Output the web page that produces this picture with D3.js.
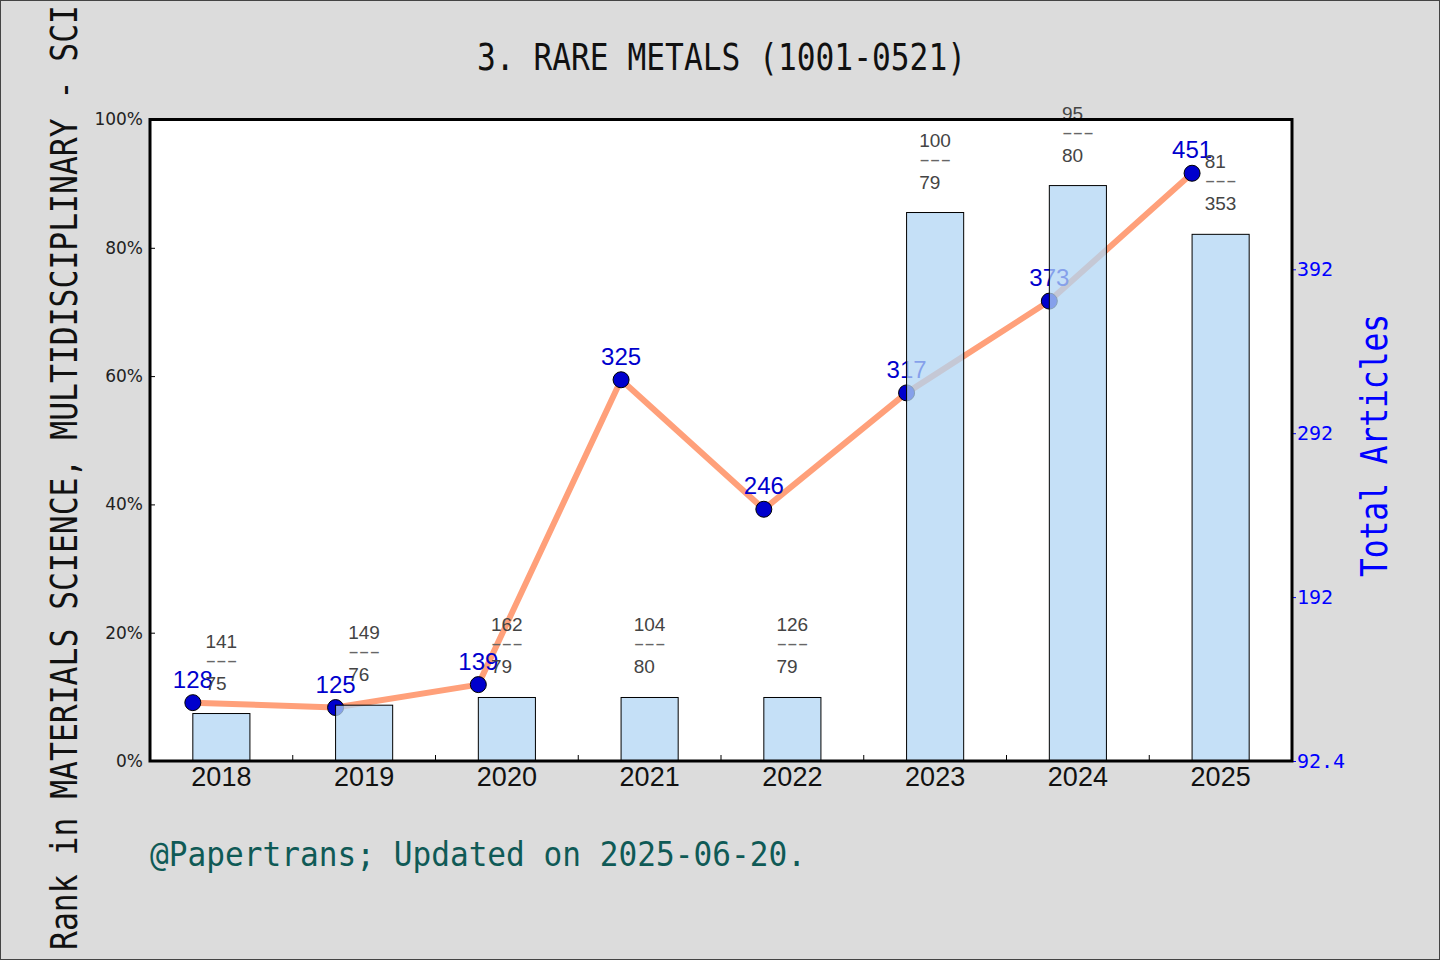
<!DOCTYPE html>
<html><head><meta charset="utf-8">
<script src="https://cdn.jsdelivr.net/npm/d3@7"></script>
<style>html,body{margin:0;padding:0;background:#dcdcdc;}svg{display:block;}</style>
</head><body>
<script>
// ---- data ----
const years = ["2018","2019","2020","2021","2022","2023","2024","2025"];
const barPercent = [7.4, 8.7, 9.9, 9.9, 9.9, 85.5, 89.7, 82.1];
const rankTop = ["141","149","162","104","126","100","95","81"];
const rankBottom = ["75","76","79","80","79","79","80","353"];
const totalArticles = [128, 125, 139, 325, 246, 317, 373, 451];
const leftTicks = [0, 20, 40, 60, 80, 100];
const rightTickValues = [92.4, 192.4, 292.4, 392.4];
const rightTickLabels = ["92.4", "192", "292", "392"];
const rightDomain = [92.4, 483.8];
const titleText = "3. RARE METALS (1001-0521)";
const leftTitle = "Rank in MATERIALS SCIENCE, MULTIDISCIPLINARY - SCI";
const rightTitle = "Total Articles";
const footerText = "@Papertrans; Updated on 2025-06-20.";

const W = 1440, H = 960;
const L = 150, R = 1292, T = 119.5, B = 761;
const mono = "'DejaVu Sans Mono', 'Liberation Mono', monospace";
const sans = "'Liberation Sans', Arial, sans-serif";

const svg = d3.select("body").append("svg").attr("width", W).attr("height", H);
svg.append("rect").attr("x",0.5).attr("y",0.5).attr("width",W-1).attr("height",H-1)
  .attr("fill","#dcdcdc").attr("stroke","#444").attr("stroke-width",1);

const x = d3.scaleBand().domain(years).range([L, R]).paddingInner(0).paddingOuter(0);
const yL = d3.scaleLinear().domain([0, 100]).range([B, T]);
const yR = d3.scaleLinear().domain(rightDomain).range([B, T]);
const bw = x.bandwidth();

// plot background
svg.append("rect").attr("x", L).attr("y", T).attr("width", R-L).attr("height", B-T).attr("fill", "#fff");

// title
svg.append("text").attr("x", 477).attr("y", 70).attr("font-family", mono).attr("font-size", 38)
  .attr("textLength", 489).attr("lengthAdjust", "spacingAndGlyphs").attr("fill", "#111").text(titleText);

// left axis title
svg.append("text").attr("transform", "translate(77,950) rotate(-90)")
  .attr("font-family", mono).attr("font-size", 38)
  .attr("textLength", 945).attr("lengthAdjust", "spacingAndGlyphs").attr("fill", "#111").text(leftTitle);

// right axis title
svg.append("text").attr("transform", "translate(1387,577) rotate(-90)")
  .attr("font-family", mono).attr("font-size", 38)
  .attr("textLength", 263).attr("lengthAdjust", "spacingAndGlyphs").attr("fill", "#0000ff").text(rightTitle);

// footer
svg.append("text").attr("x", 150).attr("y", 866).attr("font-family", mono).attr("font-size", 33)
  .attr("textLength", 656).attr("lengthAdjust", "spacingAndGlyphs").attr("fill", "#0f5a56").text(footerText);

// left axis
const axL = d3.axisLeft(yL).tickValues(leftTicks).tickFormat(d => d + "%").tickSize(-5).tickPadding(7);
const gL = svg.append("g").attr("transform", `translate(${L},0)`).call(axL);
gL.select(".domain").remove();
gL.selectAll(".tick line").attr("stroke", "#000");
gL.selectAll(".tick text").attr("font-family", "'DejaVu Sans', sans-serif").attr("font-size", 17).attr("fill", "#222");

// right axis
const axR = d3.axisRight(yR).tickValues(rightTickValues).tickFormat((d, i) => rightTickLabels[i]).tickSize(4).tickPadding(1);
const gR = svg.append("g").attr("transform", `translate(${R},0)`).call(axR);
gR.select(".domain").remove();
gR.selectAll(".tick line").attr("stroke", "#0000ff");
gR.selectAll(".tick text").attr("font-family", mono).attr("font-size", 20).attr("fill", "#0000ff");

// x axis
const axB = d3.axisBottom(x).tickSize(0).tickPadding(6);
const gB = svg.append("g").attr("transform", `translate(0,${B})`).call(axB);
gB.select(".domain").remove();
gB.selectAll(".tick text").attr("font-family", sans).attr("font-size", 27).attr("fill", "#111").attr("dy", "0.72em");
// minor ticks at band boundaries
svg.append("g").selectAll("line").data(years.slice(1)).join("line")
  .attr("x1", d => x(d)).attr("x2", d => x(d)).attr("y1", B - 6).attr("y2", B)
  .attr("stroke", "#000").attr("stroke-width", 1);

// line of total articles (anchored at the left edge of each bar)
const px = d => x(d) + bw * 0.3;
const line = d3.line().x((d, i) => px(years[i])).y(d => yR(d));
svg.append("path").datum(totalArticles).attr("d", line).attr("fill", "none")
  .attr("stroke", "#ffa07a").attr("stroke-width", 6).attr("stroke-linejoin", "round");
svg.append("g").selectAll("circle").data(totalArticles).join("circle")
  .attr("cx", (d, i) => px(years[i])).attr("cy", d => yR(d)).attr("r", 8)
  .attr("fill", "#0000cd").attr("stroke", "#000").attr("stroke-width", 1);
svg.append("g").selectAll("text").data(totalArticles).join("text")
  .attr("x", (d, i) => px(years[i])).attr("y", d => yR(d) - 15)
  .attr("text-anchor", "middle").attr("font-family", sans).attr("font-size", 24)
  .attr("fill", "#0000cd").text(d => d);

// bars (semi-transparent, drawn over the line)
svg.append("g").selectAll("rect").data(barPercent).join("rect")
  .attr("x", (d, i) => x(years[i]) + bw * 0.3).attr("width", bw * 0.4)
  .attr("y", d => yL(d)).attr("height", d => B - yL(d))
  .attr("fill", "rgb(178,214,244)").attr("fill-opacity", 0.75)
  .attr("stroke", "#000").attr("stroke-width", 1);

// rank labels above bars
const gLab = svg.append("g").attr("font-family", sans).attr("font-size", 19).attr("fill", "#444");
barPercent.forEach((v, i) => {
  const cx = x(years[i]) + bw / 2 - 16;
  const top = yL(v);
  gLab.append("text").attr("x", cx).attr("y", top - 66).text(rankTop[i]);
  gLab.append("text").attr("x", cx).attr("y", top - 47).attr("textLength", 32)
    .attr("lengthAdjust", "spacingAndGlyphs").attr("fill", "#666").text("---");
  gLab.append("text").attr("x", cx).attr("y", top - 24).text(rankBottom[i]);
});

// frame
svg.append("rect").attr("x", L).attr("y", T).attr("width", R-L).attr("height", B-T)
  .attr("fill", "none").attr("stroke", "#000").attr("stroke-width", 3);
</script>
</body></html>
